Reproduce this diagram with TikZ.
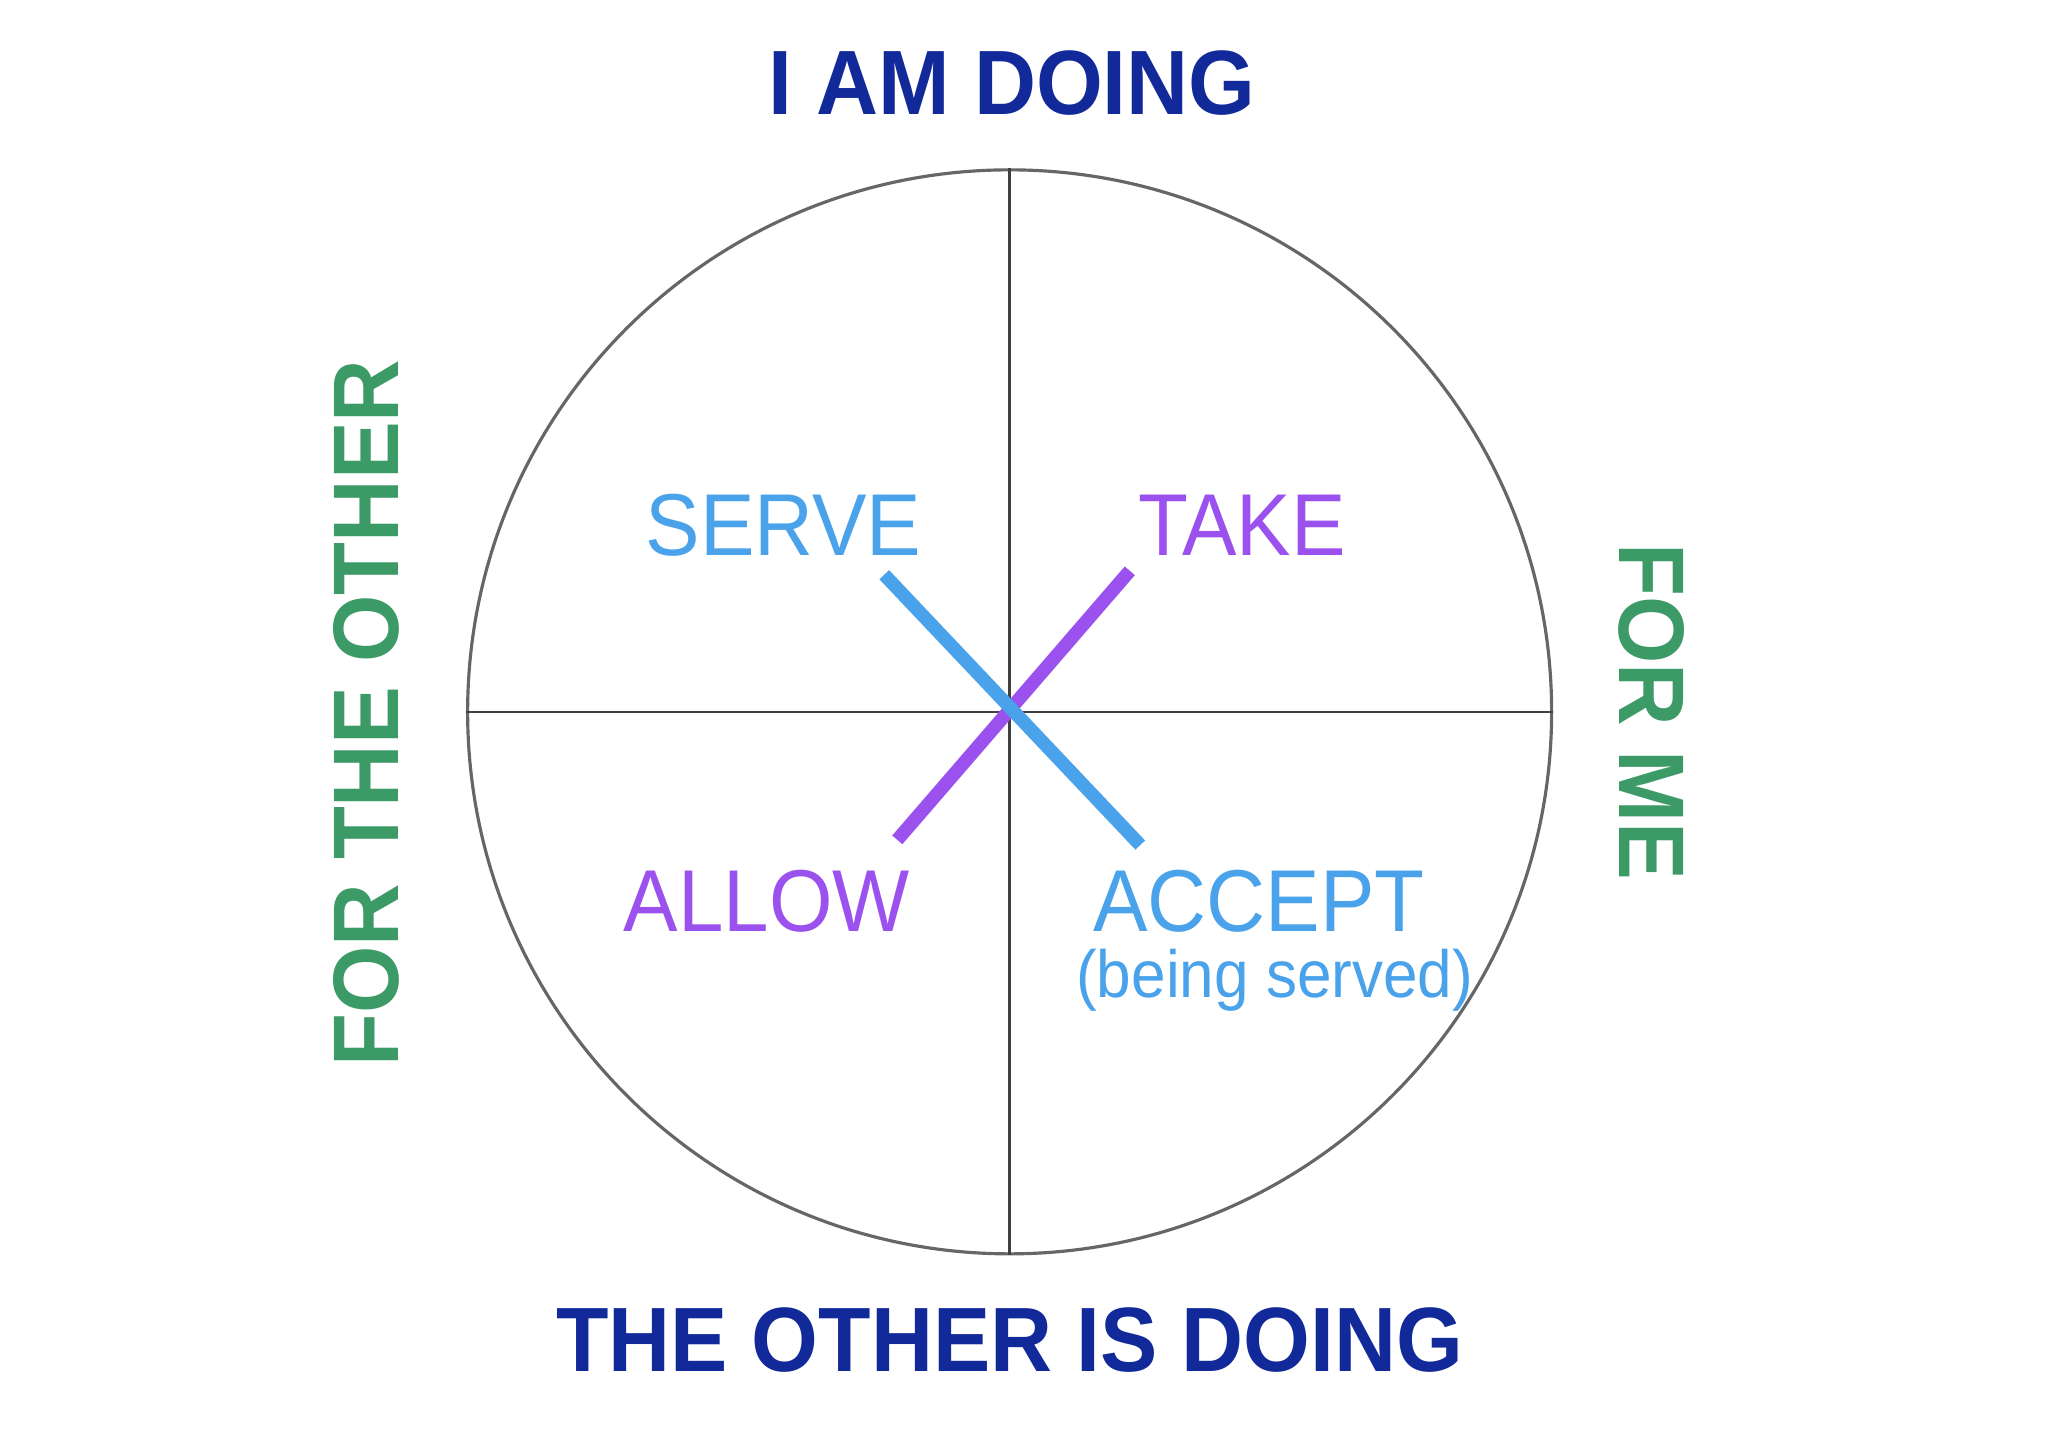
\documentclass[tikz,border=0pt]{standalone}
\usepackage{fontspec}
\setmainfont{Liberation Sans}
\definecolor{titleblue}{HTML}{12299A}
\definecolor{sidegreen}{HTML}{3C9A66}
\definecolor{lightblue}{HTML}{4AA3EA}
\definecolor{violet}{HTML}{9B51EE}
\begin{document}
\begin{tikzpicture}[x=0.01306cm,y=-0.01306cm,
        title/.style={font=\fontsize{26}{30}\selectfont\bfseries,text=titleblue,anchor=base,inner sep=0pt,xscale=0.94,transform shape},
        side/.style={font=\fontsize{26.5}{30}\selectfont\bfseries,text=sidegreen,anchor=base,inner sep=0pt,xscale=0.93,transform shape},
        word/.style={font=\fontsize{25}{30}\selectfont,anchor=base,inner sep=0pt,xscale=0.93,transform shape},
        bar/.style={line width=3.8pt}]
        \useasboundingbox (0,0) rectangle (1568,1108.6);

        \node[draw=black!60,line width=0.9pt,circle,minimum size=10.84cm,inner sep=0pt] (wheel) at (773,545) {};
        \draw[black!75,line width=0.75pt] (wheel.north) -- (wheel.south);
        \draw[black!75,line width=0.75pt] (wheel.west) -- (wheel.east);

        \coordinate (serveEnd) at (677,440);
        \coordinate (acceptEnd) at (873,647);
        \coordinate (takeEnd) at (865,437);
        \coordinate (allowEnd) at (687,643);
        \draw[bar,violet] (takeEnd) -- (allowEnd);
        \draw[bar,lightblue] (serveEnd) -- (acceptEnd);

        \node[title] (doing) at (775,88) {I AM DOING};
        \node[title] (otherdoing) at (773,1050) {THE OTHER IS DOING};
        \node[rotate=90,side] (forother) at (305,546) {FOR THE OTHER};
        \node[rotate=-90,side] (forme) at (1240,545) {FOR ME};

        \node[word,text=lightblue] (serve) at (600,425) {SERVE};
        \node[word,text=violet] (take) at (951,425) {TAKE};
        \node[word,text=violet] (allow) at (587,713) {ALLOW};
        \node[word,text=lightblue] (accept) at (964,713) {ACCEPT};
        \node[word,text=lightblue,font=\fontsize{19}{22}\selectfont] (served) at (976,764) {(being served)};
\end{tikzpicture}
\end{document}
